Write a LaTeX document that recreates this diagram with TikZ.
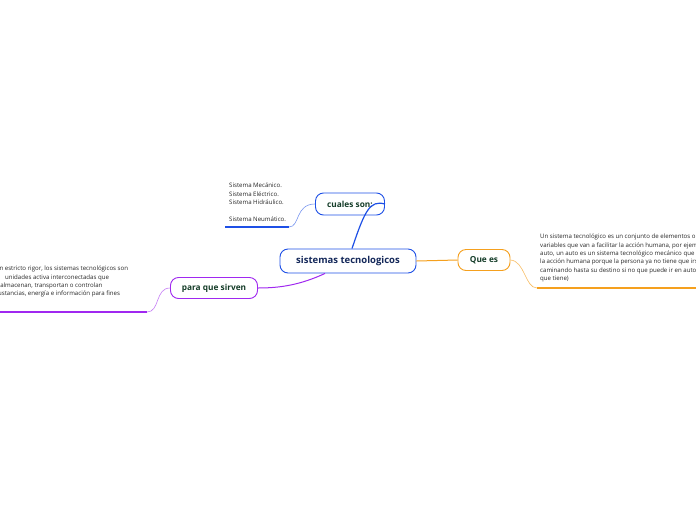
\documentclass[tikz,border=0pt]{standalone}
\usepackage{fontspec}
\setmainfont{Open Sans}
\definecolor{cb}{RGB}{30,80,230}
\definecolor{co}{RGB}{245,160,30}
\definecolor{cp}{RGB}{160,40,240}
\definecolor{tg}{RGB}{20,60,40}
\definecolor{tn}{RGB}{20,40,90}
\begin{document}
\begin{tikzpicture}[x=1pt,y=-1pt,
 topic/.style={draw,rounded corners=8pt,line width=0.9pt,fill=white,font=\fontsize{8.3}{10}\selectfont\bfseries,text=tg,inner sep=0pt},
 small/.style={font=\fontsize{6.1}{8.3}\selectfont,anchor=north west,align=left,inner sep=0pt,text=black!85}]
\path[use as bounding box] (0,0) rectangle (696,520);
\clip (0,0) rectangle (696,520);
\fill[white] (0,0) rectangle (696,520);
% nodes
\node[topic,draw=cb,minimum width=136pt,minimum height=24pt,font=\fontsize{9.5}{11}\selectfont\bfseries,text=tn] (main) at (348,261) {sistemas tecnologicos};
\node[topic,draw=cb,minimum width=69pt,minimum height=22pt] (cual) at (350,204) {cuales son:};
\node[topic,draw=co,minimum width=52pt,minimum height=21pt] (que) at (484,260) {Que es};
\node[topic,draw=cp,minimum width=87pt,minimum height=21pt] (para) at (214,288) {para que sirven};
\coordinate (c1) at (289,227); \coordinate (c1e) at (225,227);
\coordinate (c2) at (537,288); \coordinate (c2e) at (696,288);
\coordinate (c3) at (147,312); \coordinate (c3e) at (0,312);
% connectors
\draw[cb,line width=1.2pt] (main.north) ++(4,0) .. controls (365,210) and (370,200) .. (cual.east);
\draw[co,line width=1pt] (main.east) -- (que.west);
\draw[cp,line width=1pt] (main.south) ++(-23,0) .. controls (300,285) and (280,288) .. (para.east);
\draw[cb!60,line width=0.6pt] (cual.west) .. controls (295,204) and (300,227) .. (c1);
\draw[cb,line width=1.2pt] (c1) -- (c1e);
\draw[co!70,line width=0.6pt] (que.east) .. controls (525,261) and (525,288) .. (c2);
\draw[co,line width=1.2pt] (c2) -- (c2e);
\draw[cp!60,line width=0.6pt] (para.west) .. controls (155,288) and (160,312) .. (c3);
\draw[cp,line width=1.2pt] (c3) -- (c3e);
\node[small] (t1) at (229,183) {Sistema Mecánico.\\Sistema Eléctrico.\\Sistema Hidráulico.\\[8.3pt]Sistema Neumático.};
\node[small] (t2) at (540,234) {Un sistema tecnológico es un conjunto de elementos o\\variables que van a facilitar la acción humana, por ejemplo el\\auto, un auto es un sistema tecnológico mecánico que facilita\\la acción humana porque la persona ya no tiene que irse\\caminando hasta su destino si no que puede ir en auto (si es\\que tiene)};
\node[small] (t3) at (-4,266) {En estricto rigor, los sistemas tecnológicos son\\\hspace{9pt}unidades activa interconectadas que\\\hspace{1pt}, almacenan, transportan o controlan\\\hspace{-1pt}sustancias, energía e información para fines};
\end{tikzpicture}
\end{document}
